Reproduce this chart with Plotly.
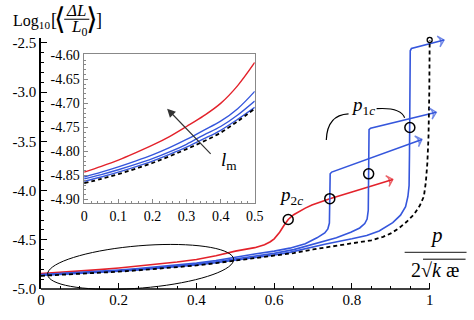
import numpy as np
import plotly.graph_objects as go

# ---------------- data ----------------
# low-p part of every curve (also what the inset shows)
p_low = [0, 0.05, 0.1, 0.15, 0.2, 0.25, 0.3, 0.35, 0.4, 0.45, 0.5]
red_low = [-4.843, -4.831, -4.818, -4.803, -4.787, -4.769, -4.748, -4.726, -4.700, -4.663, -4.615]
blue1_low = [-4.853, -4.843, -4.832, -4.820, -4.807, -4.792, -4.775, -4.756, -4.737, -4.711, -4.675]
blue2_low = [-4.857, -4.848, -4.838, -4.827, -4.815, -4.801, -4.785, -4.766, -4.748, -4.724, -4.695]
blue3_low = [-4.862, -4.853, -4.843, -4.832, -4.820, -4.806, -4.791, -4.774, -4.756, -4.733, -4.708]
dash_low = [-4.866, -4.857, -4.847, -4.836, -4.824, -4.810, -4.795, -4.779, -4.761, -4.737, -4.711]

# high-p part of every curve
red_hi_p = [0.55, 0.575, 0.59, 0.60, 0.614, 0.625, 0.636, 0.65, 0.664, 0.68, 0.697, 0.72, 0.743, 0.80, 0.86, 0.905]
red_hi = [-4.58, -4.55, -4.52, -4.49, -4.424, -4.355, -4.294, -4.245, -4.212, -4.178, -4.147, -4.112, -4.082, -4.014, -3.942, -3.887]
blue1_hi_p = [0.55, 0.60, 0.64, 0.68, 0.71, 0.73, 0.738, 0.742, 0.743, 0.744, 0.748, 0.76, 0.98]
blue1_hi = [-4.645, -4.615, -4.585, -4.54, -4.48, -4.43, -4.39, -4.33, -4.08, -3.83, -3.812, -3.795, -3.48]
blue2_hi_p = [0.55, 0.60, 0.65, 0.70, 0.73, 0.76, 0.797, 0.82, 0.833, 0.839, 0.842, 0.843, 0.844, 0.848, 0.86, 1.017]
blue2_hi = [-4.668, -4.638, -4.60, -4.548, -4.515, -4.48, -4.424, -4.38, -4.335, -4.29, -4.2, -3.83, -3.38, -3.366, -3.355, -3.205]
blue3_hi_p = [0.55, 0.60, 0.64, 0.70, 0.73, 0.80, 0.838, 0.87, 0.905, 0.925, 0.938, 0.944, 0.947, 0.948, 0.949, 0.950, 0.953, 0.965, 1.037]
blue3_hi = [-4.685, -4.655, -4.628, -4.568, -4.545, -4.49, -4.456, -4.41, -4.326, -4.25, -4.163, -4.06, -3.95, -3.64, -3.36, -2.58, -2.557, -2.545, -2.471]
dash_hi_p = [0.55, 0.60, 0.65, 0.70, 0.75, 0.80, 0.85, 0.88, 0.90, 0.92, 0.94, 0.96, 0.975, 0.985, 0.99, 0.994, 0.997, 0.999, 1.0]
dash_hi = [-4.69, -4.665, -4.635, -4.598, -4.568, -4.54, -4.505, -4.47, -4.435, -4.385, -4.32, -4.24, -4.15, -4.06, -3.92, -3.72, -3.45, -3.0, -2.47]

# critical points (open circles)
crit_p = [0.636, 0.743, 0.843, 0.949]
crit_v = [-4.294, -4.082, -3.83, -3.359]
top_p = [1.0]
top_v = [-2.47]

main_xticks = [0, 0.2, 0.4, 0.6, 0.8, 1]
main_xticklabels = ["0", "0.2", "0.4", "0.6", "0.8", "1"]
main_yticks = [-5.0, -4.5, -4.0, -3.5, -3.0, -2.5]
main_yticklabels = ["-5.0", "-4.5", "-4.0", "-3.5", "-3.0", "-2.5"]
inset_xticks = [0, 0.1, 0.2, 0.3, 0.4, 0.5]
inset_xticklabels = ["0", "0.1", "0.2", "0.3", "0.4", "0.5"]
inset_yticks = [-4.90, -4.85, -4.80, -4.75, -4.70, -4.65, -4.60]
inset_yticklabels = ["-4.90", "-4.85", "-4.80", "-4.75", "-4.70", "-4.65", "-4.60"]

# ---------------- styling ----------------
RED = "#e3222b"
BLUE = "#3556dc"
FONT = "Liberation Serif"
W, H = 474, 320
ML, MR, MT, MB = 33, 15, 38, 21
PW, PH = W - ML - MR, H - MT - MB


def fx(px):
    return (px - ML) / PW


def fy(py):
    return (H - MB - py) / PH


fig = go.Figure()

curves = [
    (red_low, red_hi_p, red_hi, RED, None),
    (blue1_low, blue1_hi_p, blue1_hi, BLUE, None),
    (blue2_low, blue2_hi_p, blue2_hi, BLUE, None),
    (blue3_low, blue3_hi_p, blue3_hi, BLUE, None),
    (dash_low, dash_hi_p, dash_hi, "black", "4px,3px"),
]
for low, hp, hv, col, dash in curves:
    fig.add_trace(go.Scatter(x=p_low + hp, y=low + hv, mode="lines",
                             line=dict(color=col, width=1.6 if dash is None else 1.8, dash=dash),
                             xaxis="x", yaxis="y", showlegend=False, hoverinfo="skip"))

# open arrowheads at the ends of the arrowed curves
for hp, hv, col in [(red_hi_p, red_hi, RED), (blue1_hi_p, blue1_hi, BLUE),
                    (blue2_hi_p, blue2_hi, BLUE), (blue3_hi_p, blue3_hi, BLUE)]:
    fig.add_trace(go.Scatter(x=hp[-2:], y=hv[-2:], mode="markers",
                             marker=dict(symbol="arrow-wide-open", size=[0, 8], angleref="previous",
                                         color=col, line=dict(color=col, width=1.4)),
                             showlegend=False, cliponaxis=False, hoverinfo="skip"))

fig.add_trace(go.Scatter(x=crit_p, y=crit_v, mode="markers",
                         marker=dict(symbol="circle-open", size=10, color="black", line=dict(width=1.5)),
                         showlegend=False, cliponaxis=False))
fig.add_trace(go.Scatter(x=top_p, y=top_v, mode="markers",
                         marker=dict(symbol="circle-open", size=5, color="black", line=dict(width=1.3)),
                         showlegend=False, cliponaxis=False))

# inset curves
for low, col, dash in [(red_low, RED, None), (blue1_low, BLUE, None), (blue2_low, BLUE, None),
                       (blue3_low, BLUE, None), (dash_low, "black", "4px,3px")]:
    fig.add_trace(go.Scatter(x=p_low, y=low, mode="lines", line_shape="spline",
                             line=dict(color=col, width=1.4 if dash is None else 1.8, dash=dash),
                             xaxis="x2", yaxis="y2", showlegend=False, hoverinfo="skip"))

annotations = []
# inset arrow with l_m
annotations.append(dict(x=0.243, y=-4.711, ax=0.375, ay=-4.808, xref="x2", yref="y2",
                        axref="x2", ayref="y2", text="", showarrow=True, arrowhead=2,
                        arrowsize=1.4, arrowwidth=1.2, arrowcolor="#333333"))


def txt(px, py, text, size, xanchor="center"):
    annotations.append(dict(x=fx(px), y=fy(py), xref="paper", yref="paper", text=text,
                            showarrow=False, xanchor=xanchor, yanchor="middle",
                            font=dict(family=FONT, size=size, color="black")))


txt(227, 166, "<i>l</i><sub>m</sub>", 19)
txt(292, 202, "<i>p</i><sub>2<i>c</i></sub>", 19)
txt(366, 109, "<i>p</i><sub>1<i>c</i></sub>", 19)

# y label
txt(2, 21, "Log<sub>10</sub>", 16, xanchor="left")
txt(46, 19, "[", 18)
txt(53, 18, "⟨", 30)
txt(69, 9, "<i>ΔL</i>", 17)
txt(72, 28, "<i>L</i><sub>0</sub>", 17)
txt(86, 18, "⟩", 30)
txt(93, 19, "]", 18)

# x label
txt(442, 243, "<i>p</i>", 21)
txt(440, 279, "2√<i>k</i> æ", 20)

shapes = []
# bottom axis line from 0 to 1 only
shapes.append(dict(type="line", xref="paper", yref="paper", x0=0, x1=1 / 1.06, y0=0, y1=0,
                   line=dict(color="black", width=1.5)))
# fraction lines
shapes.append(dict(type="line", xref="paper", yref="paper", x0=fx(57), x1=fx(83), y0=fy(18.5), y1=fy(18.5),
                   line=dict(color="black", width=1)))
shapes.append(dict(type="line", xref="paper", yref="paper", x0=fx(409), x1=fx(473), y0=fy(261), y1=fy(261),
                   line=dict(color="#444", width=1.2)))
shapes.append(dict(type="line", xref="paper", yref="paper", x0=fx(428), x1=fx(472), y0=fy(268), y1=fy(268),
                   line=dict(color="black", width=1)))
# p1c brackets
shapes.append(dict(type="path", xref="paper", yref="paper",
                   path=f"M{fx(328)},{fy(144)} Q{fx(329)},{fy(118)} {fx(351)},{fy(117)}",
                   line=dict(color="black", width=1.2)))
shapes.append(dict(type="path", xref="paper", yref="paper",
                   path=f"M{fx(380)},{fy(111.5)} Q{fx(405)},{fy(110)} {fx(409)},{fy(121)}",
                   line=dict(color="black", width=1.2)))
# ellipse around the low-p region
cx, cy, a, b = 136, 276, 96.5, 22
th = np.arctan2(16, 192)
t = np.linspace(0, 2 * np.pi, 73)
ex = cx + a * np.cos(t) * np.cos(th) - b * np.sin(t) * np.sin(th)
ey = cy - (a * np.cos(t) * np.sin(th) + b * np.sin(t) * np.cos(th))
path = "M" + " L".join(f"{fx(u)},{fy(v)}" for u, v in zip(ex, ey)) + " Z"
shapes.append(dict(type="path", xref="paper", yref="paper", path=path,
                   line=dict(color="black", width=1)))

tickfont = dict(family=FONT, size=15, color="black")
insetfont = dict(family=FONT, size=14, color="black")

fig.update_layout(
    width=W, height=H, margin=dict(l=ML, r=MR, t=MT, b=MB),
    paper_bgcolor="white", plot_bgcolor="white",
    xaxis=dict(range=[0, 1.06], domain=[0, 1], showgrid=False, zeroline=False, showline=False,
               tickmode="array", tickvals=main_xticks, ticktext=main_xticklabels,
               ticks="inside", ticklen=6, tickwidth=1, tickcolor="black", tickfont=tickfont,
               minor=dict(tickmode="array", tickvals=list(np.round(np.arange(0, 1.0001, 0.05), 3)),
                          ticks="inside", ticklen=3, tickcolor="black")),
    yaxis=dict(range=[-5.0, -2.45], domain=[0, 1], showgrid=False, zeroline=False, showline=True,
               linecolor="black", linewidth=1.5,
               tickmode="array", tickvals=main_yticks, ticktext=main_yticklabels,
               ticks="inside", ticklen=6, tickwidth=1, tickcolor="black", tickfont=tickfont,
               minor=dict(dtick=0.1, ticks="inside", ticklen=3, tickcolor="black")),
    xaxis2=dict(domain=[fx(77), fx(254)], anchor="y2", range=[-0.002, 0.5], showgrid=False,
                zeroline=False, showline=True, mirror=True, linecolor="#888", linewidth=1,
                tickmode="array", tickvals=inset_xticks, ticktext=inset_xticklabels,
                ticks="inside", ticklen=4, tickcolor="#888", tickfont=insetfont,
                minor=dict(dtick=0.02, ticks="inside", ticklen=2, tickcolor="#888")),
    yaxis2=dict(domain=[fy(210), fy(55)], anchor="x2", range=[-4.908, -4.598], showgrid=False,
                zeroline=False, showline=True, mirror=True, linecolor="#888", linewidth=1,
                tickmode="array", tickvals=inset_yticks, ticktext=inset_yticklabels,
                ticks="inside", ticklen=4, tickcolor="#888", tickfont=insetfont,
                minor=dict(dtick=0.01, ticks="inside", ticklen=2, tickcolor="#888")),
    annotations=annotations, shapes=shapes, showlegend=False,
)

fig.write_html("out.html")
